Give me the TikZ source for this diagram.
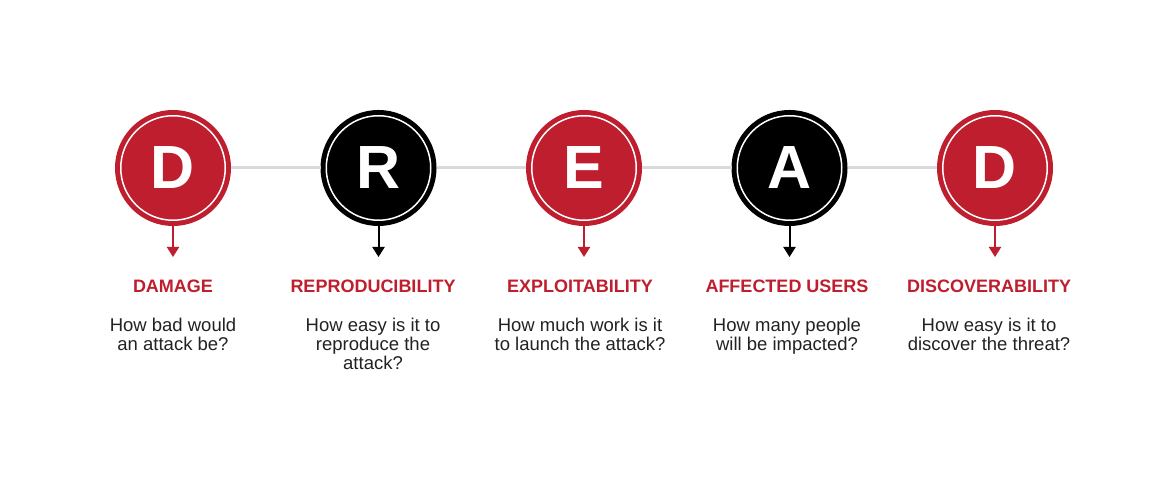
\documentclass[tikz,border=0pt]{standalone}
\usepackage{fontspec}
\setmainfont{Liberation Sans}
\usetikzlibrary{arrows.meta,positioning}
\definecolor{dreadred}{HTML}{BE1E2D}
\definecolor{dreadblack}{HTML}{000000}
\definecolor{linegray}{HTML}{DADADA}
\definecolor{bodytext}{HTML}{222222}
\tikzset{
    ball/.style =   {circle,
                    fill=#1,
                    draw=#1,
                    double=white,
                    double distance=1.5pt,
                    line width=5pt,
                    minimum size=104.5pt,
                    inner sep=0pt,
                    outer sep=5.75pt,
                    text=white,
                    font=\fontsize{61}{61}\selectfont\bfseries},
    pointer/.style = {line width=2pt,
                    draw=#1,
                    -{Triangle[width=12pt,length=10pt]}},
    title/.style =  {anchor=base,
                    inner sep=0pt,
                    text=dreadred,
                    font=\fontsize{18}{21}\selectfont\bfseries},
    question/.style = {anchor=base,
                    inner sep=0pt,
                    align=center,
                    text=bodytext,
                    font=\fontsize{18.5}{19}\selectfont},
    rail/.style =   {draw=linegray,
                    line width=3pt},
    node distance=205.5pt}
\begin{document}
\begin{tikzpicture}[x=1pt,y=1pt]
    \useasboundingbox[fill=white] (0,0) rectangle (1172,500);
    % letters
    \node[ball=dreadred]    (D1) at (173,332)   {D};
    \node[ball=dreadblack]  (R)  [right of=D1]  {R};
    \node[ball=dreadred]    (E)  [right of=R]   {E};
    \node[ball=dreadblack]  (A)  [right of=E]   {A};
    \node[ball=dreadred]    (D2) [right of=A]   {D};
    \path[rail] (D1) -- (R) -- (E) -- (A) -- (D2);
    % arrow ends
    \coordinate[below=31pt of D1] (tipD1);
    \coordinate[below=31pt of R]  (tipR);
    \coordinate[below=31pt of E]  (tipE);
    \coordinate[below=31pt of A]  (tipA);
    \coordinate[below=31pt of D2] (tipD2);
    \draw[pointer=dreadred]   (D1) -- (tipD1);
    \draw[pointer=dreadblack] (R)  -- (tipR);
    \draw[pointer=dreadred]   (E)  -- (tipE);
    \draw[pointer=dreadblack] (A)  -- (tipA);
    \draw[pointer=dreadred]   (D2) -- (tipD2);
    % titles
    \node[title] (damage)   at (173,207) {DAMAGE};
    \node[title] (repro)    at (373,207) {REPRODUCIBILITY};
    \node[title] (exploit)  at (580,207) {EXPLOITABILITY};
    \node[title] (affected) at (787,207) {AFFECTED USERS};
    \node[title] (discover) at (989,207) {DISCOVERABILITY};
    % questions (base = last line)
    \node[question] (qdamage)   at (173,149) {How bad would\\an attack be?};
    \node[question] (qrepro)    at (373,130) {How easy is it to\\reproduce the\\attack?};
    \node[question] (qexploit)  at (580,149) {How much work is it\\to launch the attack?};
    \node[question] (qaffected) at (787,149) {How many people\\will be impacted?};
    \node[question] (qdiscover) at (989,149) {How easy is it to\\discover the threat?};
\end{tikzpicture}
\end{document}
